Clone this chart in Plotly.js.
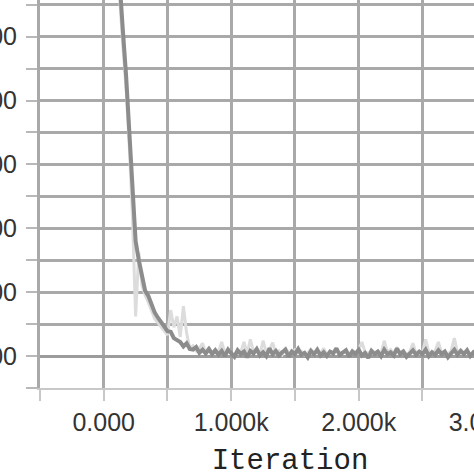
<!DOCTYPE html>
<html>
<head>
<meta charset="utf-8">
<script src="https://cdn.plot.ly/plotly-3.0.1.min.js"></script>
<style>
  body { margin: 0; overflow: hidden; background: #fff; }
  #chart { position: absolute; left: -60px; top: -40px; width: 600px; height: 520px; }
</style>
</head>
<body>
<div id="chart"></div>
<script>
    // iterations (x)
    var iters = [
        100, 125, 150, 175, 200, 225, 250, 275, 300, 325,
        350, 375, 400, 425, 450, 475, 500, 525, 550, 575,
        600, 625, 650, 675, 700, 725, 750, 775, 800, 825,
        850, 875, 900, 925, 950, 975, 1000, 1025, 1050, 1075,
        1100, 1125, 1150, 1175, 1200, 1225, 1250, 1275, 1300, 1325,
        1350, 1375, 1400, 1425, 1450, 1475, 1500, 1525, 1550, 1575,
        1600, 1625, 1650, 1675, 1700, 1725, 1750, 1775, 1800, 1825,
        1850, 1875, 1900, 1925, 1950, 1975, 2000, 2025, 2050, 2075,
        2100, 2125, 2150, 2175, 2200, 2225, 2250, 2275, 2300, 2325,
        2350, 2375, 2400, 2425, 2450, 2475, 2500, 2525, 2550, 2575,
        2600, 2625, 2650, 2675, 2700, 2725, 2750, 2775, 2800, 2825,
        2850, 2875, 2900, 2925, 2950, 2975, 3000, 3025, 3050, 3075,
        3100, 3125, 3150, 3175, 3200, 3225, 3250, 3275, 3300, 3325,
        3350, 3375, 3400
    ];

    // smoothed curve (dark)
    var smoothLoss = [
        6.6, 5.75, 5.1, 4.4, 3.55, 2.55, 1.8, 1.5, 1.28, 1.02,
        0.94, 0.8, 0.68, 0.6, 0.52, 0.46, 0.39, 0.38, 0.28, 0.25,
        0.22, 0.15, 0.2, 0.11, 0.1, 0.14, 0.05, 0.1, 0.04, 0.11,
        0.03, 0.09, 0.02, 0.08, 0.0, 0.1, 0.04, -0.01, 0.09, 0.03,
        0.07, -0.02, 0.08, 0.04, 0.11, 0.01, 0.06, 0.0, 0.12, 0.03,
        0.08, 0.01, 0.06, 0.1, -0.01, 0.07, 0.03, 0.11, 0.02, 0.05,
        -0.02, 0.08, 0.03, 0.1, 0.01, 0.06, 0.0, 0.07, 0.04, 0.12,
        0.02, 0.06, 0.09, -0.01, 0.07, 0.03, 0.1, 0.01, 0.05, -0.03,
        0.08, 0.03, 0.07, 0.0, 0.1, 0.03, 0.06, 0.01, 0.12, 0.03,
        0.07, -0.01, 0.05, 0.09, 0.02, 0.07, 0.03, 0.1, 0.0, 0.06,
        0.02, 0.09, 0.03, 0.07, -0.02, 0.05, 0.1, 0.02, 0.08, 0.03,
        0.09, 0.0, 0.06, 0.02, 0.07, 0.03, 0.11, 0.01, 0.06, -0.01,
        0.07, 0.03, 0.09, 0.02, 0.06, 0.03, 0.08, 0.0, 0.06, 0.03,
        0.08, 0.02, 0.05
    ];

    // raw values (light, behind)
    var rawLoss = [
        6.8, 5.6, 4.85, 4.2, 3.3, 2.2, 0.62, 1.62, 1.1, 0.95,
        0.84, 0.7, 0.58, 0.52, 0.45, 0.38, 0.33, 0.72, 0.45, 0.62,
        0.3, 0.78, 0.36, 0.12, 0.16, 0.08, 0.12, 0.2, 0.05, 0.14,
        0.04, 0.1, 0.06, 0.22, 0.05, 0.12, 0.04, 0.02, 0.1, 0.06,
        0.22, 0.04, 0.26, 0.06, 0.12, 0.03, 0.24, 0.05, 0.1, 0.21,
        0.04, 0.08, 0.02, 0.12, 0.06, 0.04, 0.1, 0.05, 0.07, 0.02,
        0.05, 0.1, 0.03, 0.08, 0.04, 0.12, 0.02, 0.07, 0.05, 0.1,
        0.04, 0.06, 0.08, 0.03, 0.09, 0.05, 0.11, 0.22, 0.06, 0.04,
        0.1, 0.05, 0.08, 0.03, 0.24, 0.06, 0.1, 0.04, 0.12, 0.05,
        0.08, 0.03, 0.06, 0.2, 0.04, 0.07, 0.05, 0.26, 0.06, 0.04,
        0.09, 0.22, 0.05, 0.07, 0.03, 0.08, 0.28, 0.05, 0.1, 0.04,
        0.07, 0.02, 0.06, 0.05, 0.2, 0.06, 0.09, 0.03, 0.07, 0.04,
        0.08, 0.05, 0.1, 0.03, 0.07, 0.18, 0.06, 0.04, 0.08, 0.05,
        0.07, 0.04, 0.06
    ];

    var xTickVals = [0, 1000, 2000, 3000];
    var xTickText = ['0.000', '1.000k', '2.000k', '3.000k'];

    var gridCol = '#a9a9a9';
    var tickFont = {family: 'Liberation Sans, Arial, sans-serif', size: 25, color: '#333'};

    var data = [
        {x: iters, y: rawLoss, type: 'scatter', mode: 'lines',
         line: {color: '#dcdcdc', width: 3}, hoverinfo: 'skip'},
        {x: iters, y: smoothLoss, type: 'scatter', mode: 'lines',
         line: {color: '#8c8c8c', width: 4}, hoverinfo: 'skip'}
    ];

    var layout = {
        width: 600,
        height: 520,
        margin: {l: 100, r: 0, t: 0, b: 92},
        paper_bgcolor: '#fff',
        plot_bgcolor: '#fff',
        showlegend: false,
        xaxis: {
            range: [-500, 3422],
            tickmode: 'array',
            tickvals: xTickVals,
            ticktext: xTickText,
            showgrid: true, gridcolor: gridCol, gridwidth: 3,
            zeroline: false,
            ticks: 'outside', ticklen: 11, tickwidth: 2, tickcolor: '#c8c8c8',
            showline: true, linecolor: '#c8c8c8', linewidth: 2,
            minor: {tickmode: 'linear', tick0: 0, dtick: 500,
                    showgrid: true, gridcolor: gridCol, gridwidth: 3,
                    ticks: 'outside', ticklen: 11, tickwidth: 2, tickcolor: '#c8c8c8'},
            tickfont: tickFont,
            ticklabelstandoff: 0,
            title: {text: 'Iteration', standoff: 14,
                    font: {family: 'Liberation Mono, DejaVu Sans Mono, monospace', size: 29, color: '#222'}}
        },
        yaxis: {
            range: [-0.5, 6.2],
            tick0: 0, dtick: 1,
            tickformat: '.3f',
            showgrid: true, gridcolor: gridCol, gridwidth: 3,
            zeroline: true, zerolinecolor: '#9c9c9c', zerolinewidth: 3,
            ticks: 'outside', ticklen: 11, tickwidth: 2, tickcolor: '#b8b8b8',
            showline: true, linecolor: gridCol, linewidth: 3,
            minor: {tick0: 0, dtick: 0.5,
                    showgrid: true, gridcolor: gridCol, gridwidth: 3,
                    ticks: 'outside', ticklen: 11, tickwidth: 2, tickcolor: '#b8b8b8'},
            tickfont: tickFont,
            ticklabelstandoff: 4
        }
    };
    var config = {staticPlot: true, responsive: false};
    Plotly.newPlot('chart', data, layout, config);
</script>
</body>
</html>
